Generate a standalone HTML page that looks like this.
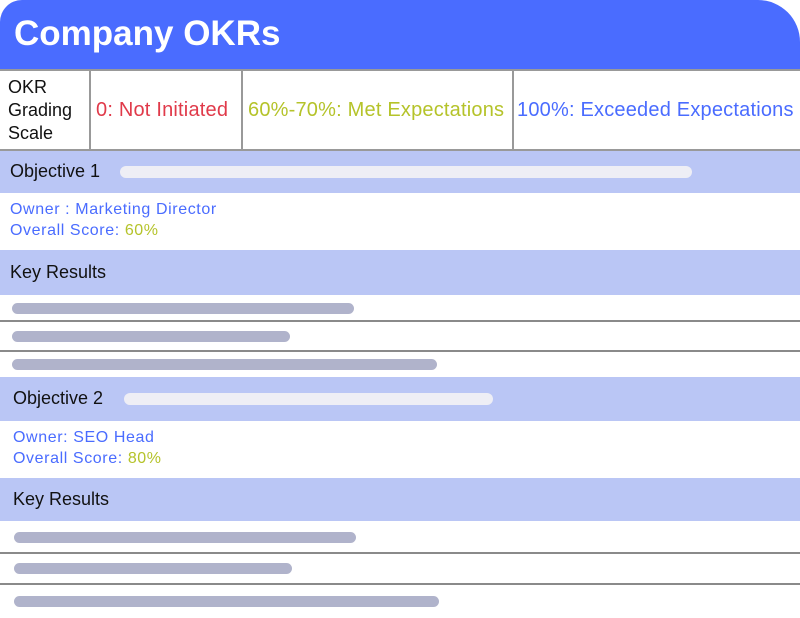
<!DOCTYPE html>
<html><head><style>
body{margin:0;width:800px;height:618px;background:#fff;position:relative;overflow:hidden;font-family:"Liberation Sans",sans-serif}
div{position:absolute;box-sizing:border-box}
.band{left:0;width:800px;background:#BAC6F5}
.t{font-size:18px;color:#111;white-space:nowrap}
.bar{height:11px;border-radius:6px;background:#B0B3CB}
.wbar{height:12px;border-radius:6px;background:#EEEEF5}
.line{left:0;width:800px;height:2px;background:#8a8a8a}
.o{font-size:16px;letter-spacing:0.6px;color:#4A6CFF;white-space:nowrap}
.g{color:#B5C32A}
.cell{top:70px;height:81px;border-right:2px solid #999;display:flex;align-items:center;font-size:20px;letter-spacing:0.2px;white-space:nowrap;padding-left:5px}
</style></head><body>
<div style="left:0;top:0;width:800px;height:70px;background:#4A6CFF;border-radius:22px 42px 0 0"></div>
<div style="left:14px;top:14px;font-size:35px;font-weight:bold;color:#fff">Company OKRs</div>
<div style="left:0;top:69px;width:800px;height:2px;background:#999"></div>
<div class="cell" style="left:0;width:91px;line-height:23px;white-space:normal;color:#111;padding-left:8px;font-size:18px;letter-spacing:0">OKR Grading Scale</div>
<div class="cell" style="left:91px;width:152px;color:#E03A4A">0: Not Initiated</div>
<div class="cell" style="left:243px;width:271px;color:#B5C32A">60%-70%: Met Expectations</div>
<div class="cell" style="left:514px;width:286px;border-right:none;color:#4A6CFF;padding-left:3px">100%: Exceeded Expectations</div>
<div style="left:0;top:149px;width:800px;height:2px;background:#999"></div>

<div class="band" style="top:151px;height:42px"></div>
<div class="t" style="left:10px;top:161px">Objective 1</div>
<div class="wbar" style="left:120px;top:166px;width:572px"></div>
<div class="o" style="left:10px;top:201px">Owner : Marketing Director</div>
<div class="o" style="left:10px;top:222px">Overall Score: <span class="g">60%</span></div>
<div class="band" style="top:250px;height:45px"></div>
<div class="t" style="left:10px;top:262px">Key Results</div>
<div class="bar" style="left:12px;top:303px;width:342px"></div>
<div class="line" style="top:320px"></div>
<div class="bar" style="left:12px;top:331px;width:278px"></div>
<div class="line" style="top:350px"></div>
<div class="bar" style="left:12px;top:359px;width:425px"></div>

<div class="band" style="top:377px;height:44px"></div>
<div class="t" style="left:13px;top:388px">Objective 2</div>
<div class="wbar" style="left:124px;top:393px;width:369px"></div>
<div class="o" style="left:13px;top:429px">Owner: SEO Head</div>
<div class="o" style="left:13px;top:450px">Overall Score: <span class="g">80%</span></div>
<div class="band" style="top:478px;height:43px"></div>
<div class="t" style="left:13px;top:489px">Key Results</div>
<div class="bar" style="left:14px;top:532px;width:342px"></div>
<div class="line" style="top:552px"></div>
<div class="bar" style="left:14px;top:563px;width:278px"></div>
<div class="line" style="top:583px"></div>
<div class="bar" style="left:14px;top:596px;width:425px"></div>
</body></html>
